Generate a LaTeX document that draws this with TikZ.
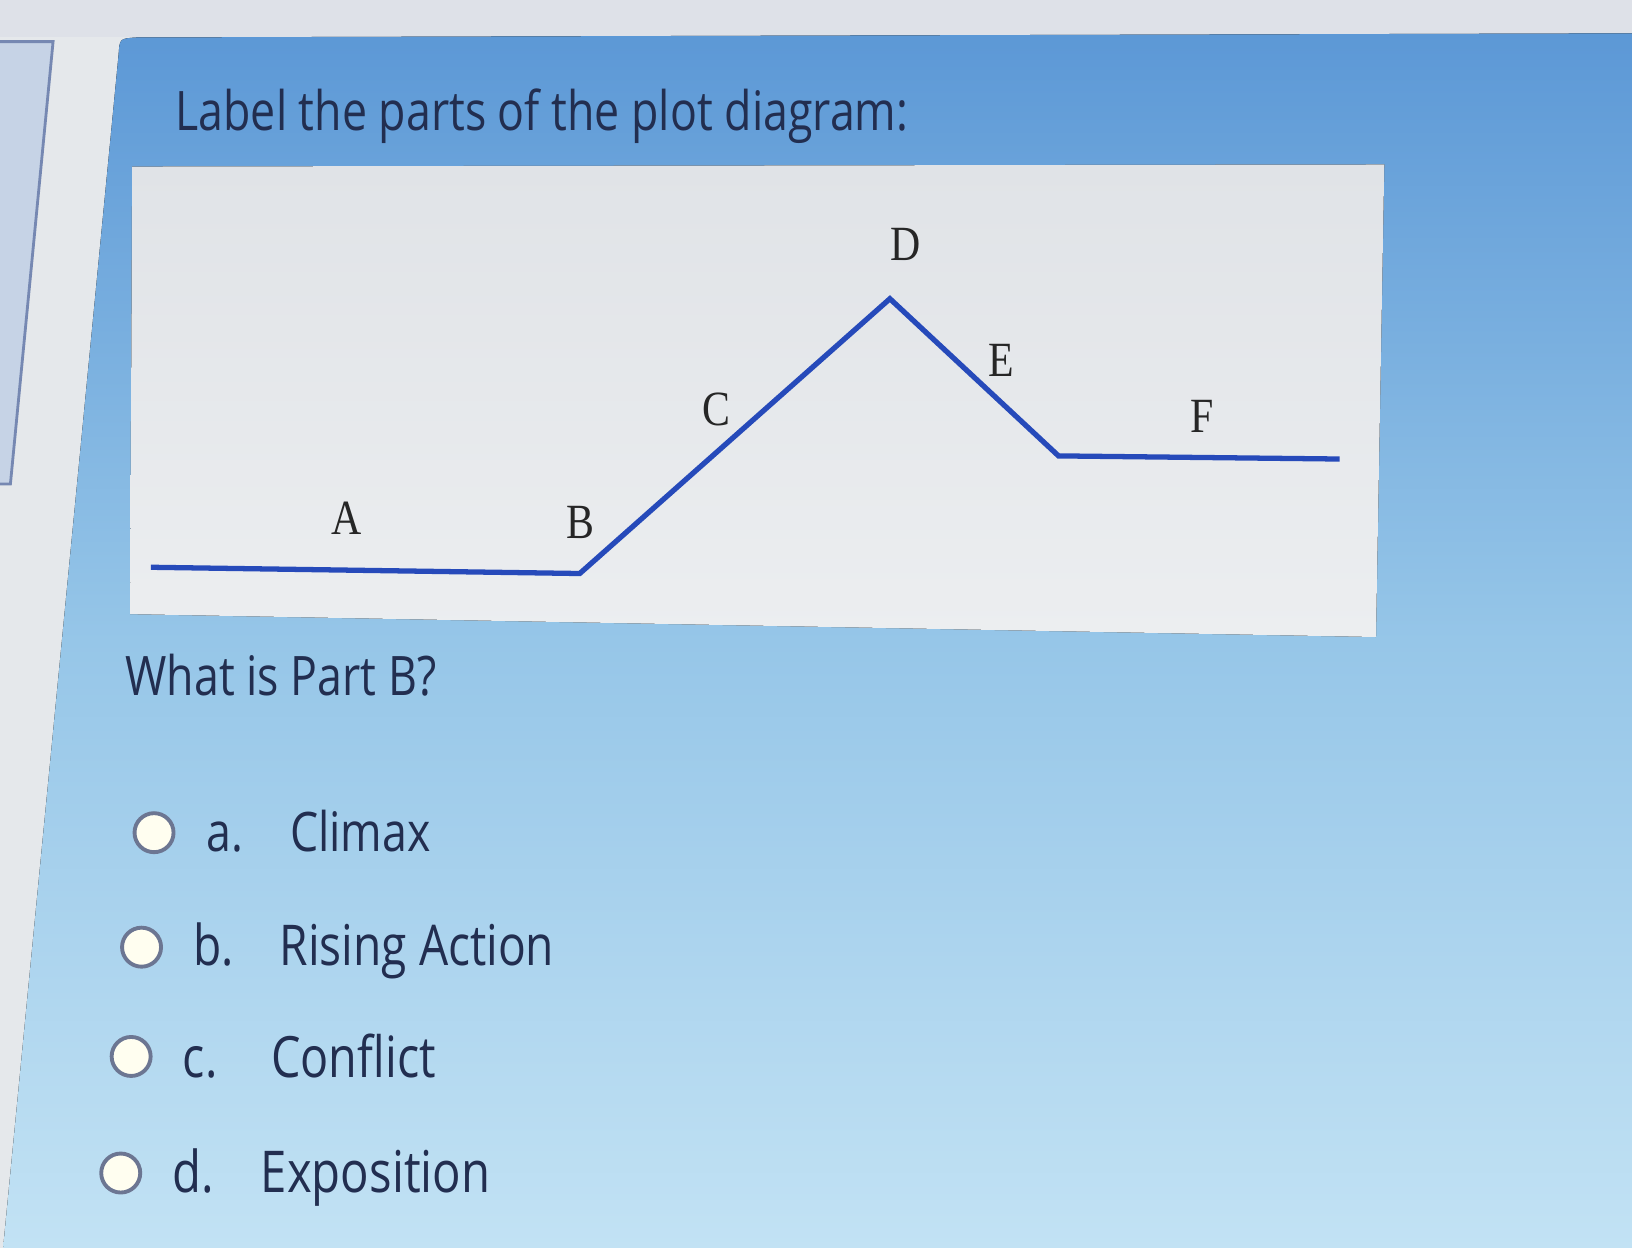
\documentclass[tikz,border=0pt]{standalone}
\usepackage{fontspec}
\setmainfont{Open Sans}[FakeStretch=0.82]
\newfontfamily\plotfont{Liberation Serif}[FakeStretch=0.85]
\usetikzlibrary{positioning}

\definecolor{topgray}{RGB}{222,225,232}
\definecolor{pagegray}{RGB}{229,232,235}
\definecolor{sidefill}{RGB}{198,211,230}
\definecolor{sideline}{RGB}{118,136,178}
\definecolor{paneltop}{RGB}{92,152,214}
\definecolor{panelmid}{RGB}{150,198,232}
\definecolor{panelbot}{RGB}{194,226,244}
\definecolor{cardtop}{RGB}{224,227,231}
\definecolor{cardbot}{RGB}{236,238,240}
\definecolor{plotblue}{RGB}{38,74,186}
\definecolor{inkdark}{RGB}{34,46,80}
\definecolor{ringgray}{RGB}{108,118,146}

\begin{document}
\begin{tikzpicture}[x=0.010408cm,y=-0.010408cm,
    question/.style={anchor=base west,inner sep=0pt,text=inkdark,font=\fontsize{15.5}{18}\selectfont},
    part/.style={inner sep=1pt,text=black!85,font=\plotfont\fontsize{14}{16}\selectfont},
    radio/.style={circle,draw=ringgray,line width=1.1pt,fill=white!94!yellow,minimum size=0.39cm,inner sep=0pt},
    plotline/.style={plotblue,line width=1.5pt,line join=miter}]

\useasboundingbox (0,0) rectangle (1568,1199);
% screen behind the quiz
\fill[pagegray] (0,0) rectangle (1568,1199);
\fill[topgray] (0,0) rectangle (1568,36);
\filldraw[fill=sidefill,draw=sideline,line width=0.8pt] (-5,40) -- (51,40) -- (10,465) -- (-5,465) -- cycle;

% blue question panel
\fill[top color=paneltop,bottom color=panelbot,middle color=panelmid]
  (3,1199) -- (114,52) .. controls (115,37) .. (131,36) -- (1568,32) -- (1568,1199) -- cycle;
\node[question] (title) at (168,125) {Label the parts of the plot diagram:};

% picture of the plot
\fill[top color=cardtop,bottom color=cardbot] (127,160) -- (1330,158) -- (1322,612) -- (125,590) -- cycle;
\coordinate (start) at (145,545);
\coordinate (bend) at (557,551);
\coordinate (peak) at (855,287);
\coordinate (foot) at (1017,438);
\coordinate (end) at (1287,441);
\draw[plotline] (start) -- (bend) -- (peak) -- (foot) -- (end);

\node[part] (A) at (333,498) {A};
\node[part] (B) at (558,502) {B};
\node[part] (C) at (688,393) {C};
\node[part] (D) at (870,235) {D};
\node[part] (E) at (962,346) {E};
\node[part] (F) at (1155,400) {F};

% question and answers
\node[question] (ask) at (120,668) {What is Part B?};

\node[radio] (ra) at (148,800) {};
\node[question] (la) at (198,818) {a.};
\node[question] (ta) at (278,818) {Climax};

\node[radio] (rb) at (136,910) {};
\node[question,font=\fontsize{16}{19}\selectfont] (lb) at (185,928) {b.};
\node[question,font=\fontsize{16}{19}\selectfont] (tb) at (268,928) {Rising Action};

\node[radio] (rc) at (126,1015) {};
\node[question,font=\fontsize{16.2}{19}\selectfont] (lc) at (175,1035) {c.};
\node[question,font=\fontsize{16.2}{19}\selectfont] (tc) at (260,1035) {Conflict};

\node[radio] (rd) at (116,1127) {};
\node[question,font=\fontsize{16.4}{19}\selectfont] (ld) at (165,1146) {d.};
\node[question,font=\fontsize{16.4}{19}\selectfont] (td) at (250,1146) {Exposition};
\end{tikzpicture}
\end{document}
